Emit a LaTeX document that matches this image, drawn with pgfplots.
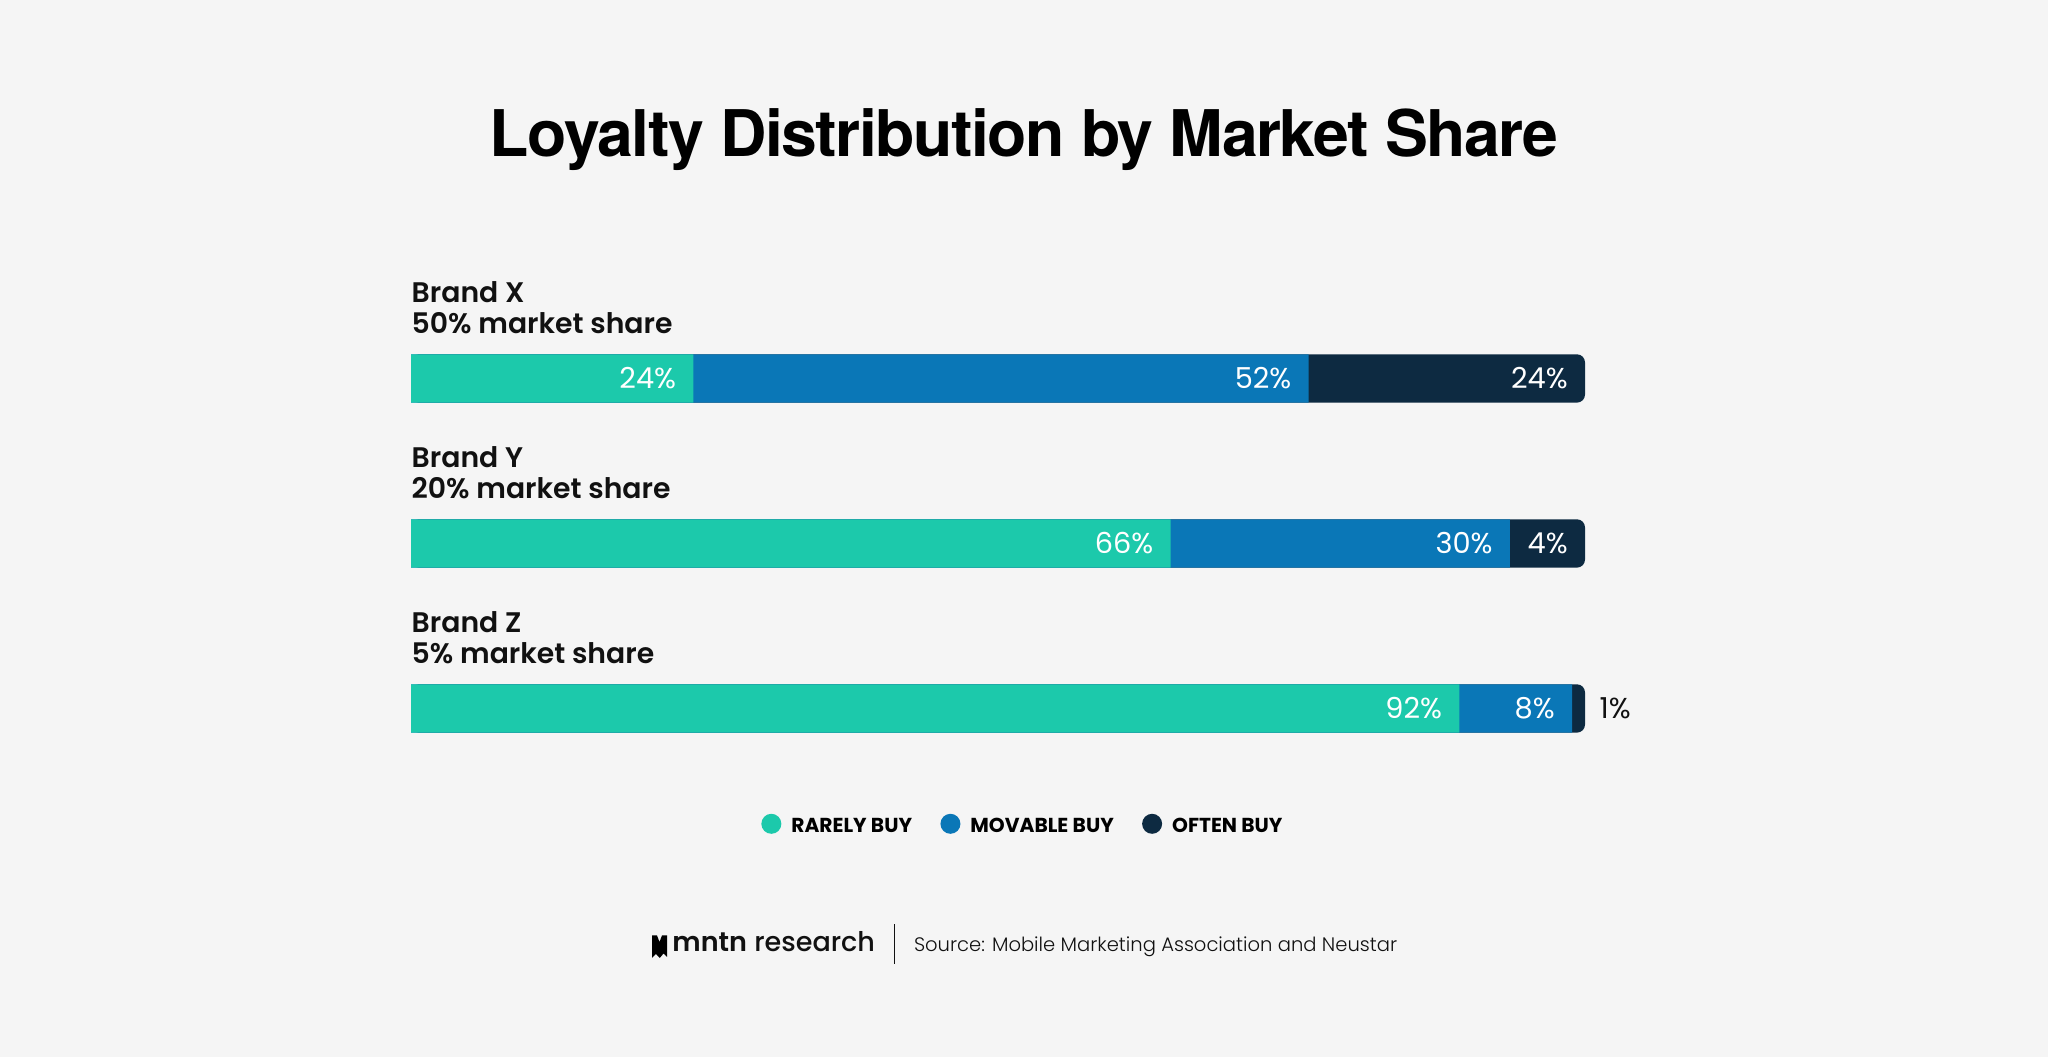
\documentclass[border=0pt]{standalone}
\usepackage{pgfplots}
\pgfplotsset{compat=1.18}
\usepackage{fontspec}
\setmainfont{Poppins}
\newfontfamily\popreg{Poppins}
\newfontfamily\popmed{Poppins Medium}
\newfontfamily\popsemi{Poppins SemiBold}
\newfontfamily\popbold{Poppins Bold}
\newfontfamily\poplight{Poppins Light}
\newfontfamily\titlefont{TeX Gyre Heros}[LetterSpace=-2.3]
\definecolor{bgc}{HTML}{F5F5F5}
\definecolor{cteal}{HTML}{1CC9AB}
\definecolor{cblue}{HTML}{0A77B7}
\definecolor{cnavy}{HTML}{0D2A41}
\definecolor{ink}{HTML}{111111}
\begin{document}
\begin{tikzpicture}
\fill[bgc] (0,0) rectangle (20.48cm,10.57cm);
% title
\node[anchor=base, inner sep=0pt, text=black] at (10.24cm,9.00cm)
  {\titlefont\bfseries\fontsize{18.3pt}{20pt}\selectfont Loyalty Distribution by Market Share};
\begin{axis}[
  at={(4.11cm,2.66cm)}, anchor=south west,
  width=11.74cm, height=4.95cm, scale only axis,
  xmin=0, xmax=100, ymin=-0.5, ymax=2.5,
  axis lines=none, xtick=\empty, ytick=\empty,
  clip=false,
  xbar, bar width=0.483cm,
  every axis plot post/.append style={bar shift=0pt},
  legend image code/.code={\fill[#1] (0.1cm,0.045cm) circle (0.1cm); \path (0cm,0cm) (0.3cm,0cm);},
  legend columns=3,
  legend cell align=left,
  legend style={at={(axis description cs:0.5204,-0.0707)}, anchor=center,
    draw=none, fill=none, inner sep=0pt, text=black,
    font=\popbold\fontsize{5.75pt}{6.5pt}\selectfont,
    nodes={inner sep=0pt},
    /tikz/every even column/.append style={column sep=0.283cm}},
]
% total bar (often buy end = 100%)
\addplot[forget plot, bar shift=0pt, fill=cnavy, draw=none, rounded corners=0.08cm]
  coordinates {(100,2) (100,1) (100,0)};
% movable buy end (cumulative)
\addplot[forget plot, bar shift=0pt, fill=cblue, draw=none]
  coordinates {(76.46,2) (93.6,1) (98.9,0)};
% rarely buy
\addplot[forget plot, bar shift=0pt, fill=cteal, draw=none]
  coordinates {(24.05,2) (64.7,1) (89.3,0)};

\addlegendimage{fill=cteal, draw=none}
\addlegendentry{RARELY BUY}
\addlegendimage{fill=cblue, draw=none}
\addlegendentry{MOVABLE BUY}
\addlegendimage{fill=cnavy, draw=none}
\addlegendentry{OFTEN BUY}

% brand labels
\begin{scope}[every node/.style={anchor=base west, inner sep=0pt, text=ink, font=\popsemi\fontsize{8.05pt}{9pt}\selectfont}]
\node at (axis cs:0,2) [yshift=0.762cm] {Brand X};
\node at (axis cs:0,2) [yshift=0.445cm] {50\% market share};
\node at (axis cs:0,1) [yshift=0.762cm] {Brand Y};
\node at (axis cs:0,1) [yshift=0.445cm] {20\% market share};
\node at (axis cs:0,0) [yshift=0.762cm] {Brand Z};
\node at (axis cs:0,0) [yshift=0.445cm] {5\% market share};
\end{scope}
% value labels
\begin{scope}[every node/.style={anchor=east, inner sep=0pt, text=white, xshift=-0.166cm, font=\popreg\fontsize{8.2pt}{9pt}\selectfont}]
\node at (axis cs:24.05,2) {24\%};
\node at (axis cs:76.46,2) {52\%};
\node at (axis cs:100,2) {24\%};
\node at (axis cs:64.7,1) {66\%};
\node at (axis cs:93.6,1) {30\%};
\node at (axis cs:100,1) {4\%};
\node at (axis cs:89.3,0) {92\%};
\node at (axis cs:98.9,0) {8\%};
\end{scope}
\node[anchor=west, inner sep=0pt, text=ink, xshift=0.14cm, font=\popreg\fontsize{8.2pt}{9pt}\selectfont] at (axis cs:100,0) {1\%};
\end{axis}
% footer
\fill[black] (6.52cm,1.215cm) -- (6.57cm,1.215cm) -- (6.595cm,1.15cm) -- (6.62cm,1.215cm) -- (6.67cm,1.215cm)
  -- (6.67cm,1.0cm) -- (6.635cm,1.035cm) -- (6.598cm,0.99cm) -- (6.56cm,1.03cm) -- (6.52cm,0.99cm) -- cycle;
\node[anchor=base west, inner sep=0pt, text=ink] at (6.717cm,1.053cm)
  {\fontsize{7.7pt}{8pt}\selectfont{\popsemi mntn} {\popmed research}};
\draw[ink, line width=0.015cm] (8.943cm,1.327cm) -- (8.943cm,0.927cm);
\node[anchor=base west, inner sep=0pt, text=ink] at (9.133cm,1.053cm)
  {\poplight\fontsize{5.56pt}{7pt}\selectfont Source: Mobile Marketing Association and Neustar};
\end{tikzpicture}
\end{document}
